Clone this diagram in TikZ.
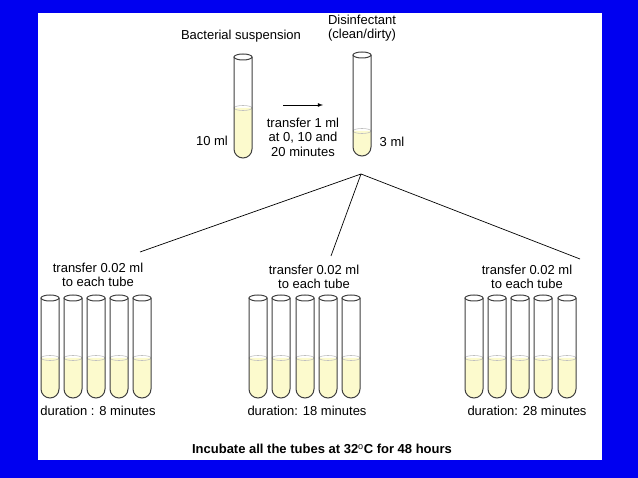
\documentclass[tikz,border=0pt]{standalone}
\usepackage{fontspec}
\setmainfont{Liberation Sans}
\definecolor{bg}{RGB}{0,0,240}
\definecolor{liq}{RGB}{252,250,205}
\begin{document}
\begin{tikzpicture}[x=1pt,y=-1pt,
  lbl/.style={font=\fontsize{13}{14.5}\selectfont,align=center,inner sep=0pt},
  tubeline/.style={draw=black!75,line width=1pt}]
\fill[bg] (0,0) rectangle (638,478);
\fill[white] (38,13) rectangle (602,460);
\useasboundingbox (0,0) rectangle (638,478);
% tube macro: #1 left x, #2 top y, #3 bottom y, #4 liquid y
\newcommand\mytube[4]{%
  \fill[liq] (#1,#4) -- (#1,#3-9) arc[start angle=180,end angle=0,radius=9] -- (#1+18,#4) -- cycle;
  \draw[black!25,line width=0.6pt] (#1+9,#4) ellipse[x radius=9,y radius=2.5];
  \draw[tubeline] (#1,#2) -- (#1,#3-9) arc[start angle=180,end angle=0,radius=9] -- (#1+18,#2);
  \draw[tubeline] (#1+9,#2) ellipse[x radius=9,y radius=3];
}
\mytube{234}{57}{158}{108}
\mytube{353}{55}{156}{131}
\foreach \x in {41,64,87,110,133}{\mytube{\x}{298}{398}{358}}
\foreach \x in {249,272,296,319,342}{\mytube{\x}{298}{398}{358}}
\foreach \x in {465,488,511,534,558}{\mytube{\x}{298}{398}{358}}
\node[lbl] (bs) at (241,36) {Bacterial suspension};
\node[lbl] (dis) at (362,28) {Disinfectant\\(clean/dirty)};
\node[lbl] (ten) at (212,141) {10 ml};
\node[lbl] (three) at (392,142) {3 ml};
\node[lbl] (tr) at (303,137) {transfer 1 ml\\at 0, 10 and\\20 minutes};
\coordinate (a1) at (283,105); \coordinate (a2) at (323,105);
\draw[-latex,line width=0.8pt] (a1) -- (a2);
\coordinate (apex) at (361,174);
\coordinate (e1) at (140,252); \coordinate (e2) at (331,256); \coordinate (e3) at (580,259);
\draw[line width=0.7pt] (e1) -- (apex) -- (e3) (apex) -- (e2);
\node[lbl] (t1) at (98,275) {transfer 0.02 ml\\to each tube};
\node[lbl] (t2) at (314,277) {transfer 0.02 ml\\to each tube};
\node[lbl] (t3) at (527,277) {transfer 0.02 ml\\to each tube};
\node[lbl] (d1) at (98,411) {duration : 8 minutes};
\node[lbl] (d2) at (307,411) {duration: 18 minutes};
\node[lbl] (d3) at (527,411) {duration: 28 minutes};
\node[lbl,font=\fontsize{13}{14.5}\selectfont\bfseries] (inc) at (322,449) {Incubate all the tubes at 32$^{\mathrm{o}}$C for 48 hours};
\end{tikzpicture}
\end{document}
